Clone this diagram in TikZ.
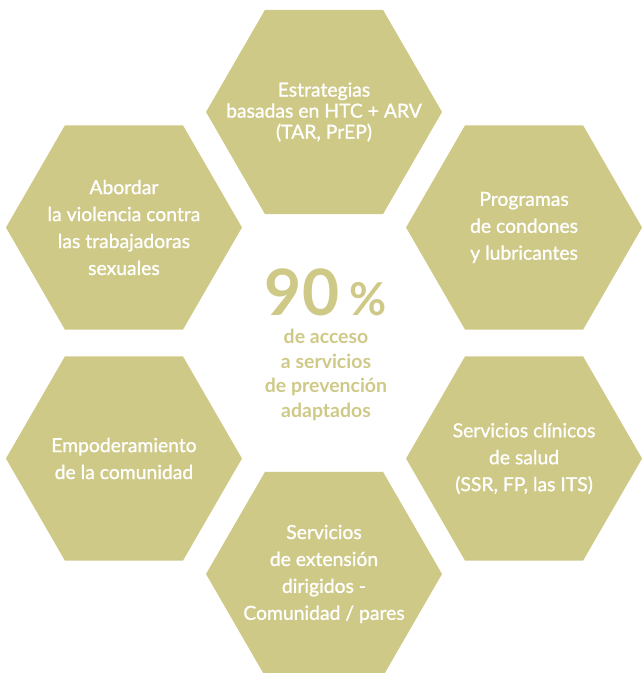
\documentclass[tikz,border=0pt]{standalone}
\usepackage{fontspec}
\setmainfont{Lato}
\newfontfamily\hexfont{Lato}[RawFeature={embolden=1.1}]
\usepackage{tikz}
\usetikzlibrary{calc}
\definecolor{hexolive}{RGB}{207,201,135}
\tikzset{%
    hexcell/.style={fill=hexolive, draw=none},
    hexlabel/.style={text=white, align=center, inner sep=0pt,
        font=\hexfont\fontsize{14.5}{20.2}\selectfont},
    hublabel/.style={text=hexolive, align=center, inner sep=0pt,
        font=\bfseries\fontsize{14.6}{18.4}\selectfont}
}

\begin{document}
\begin{tikzpicture}[x=0.75pt, y=-0.75pt]
\useasboundingbox (0,0) rectangle (641,673);
\coordinate (hub) at (324,343);
% ring of six cells round the hub
\foreach \cell/\ang in {strat/270, cond/330, clin/30, ext/90, emp/150, viol/210}{
    \path (hub) ++(\ang:231) coordinate (\cell);
    \fill[hexcell] (\cell) ++(0:118) -- ++(120:118) -- ++(180:118)
        -- ++(240:118) -- ++(300:118) -- ++(0:118) -- cycle;
}
\node[hexlabel, font=\hexfont\fontsize{14.5}{15.8}\selectfont] (strat-t) at (strat)
    {Estrategias\\basadas en HTC + ARV\\(TAR, PrEP)};
\node[hexlabel] (cond-t) at (cond) {Programas\\de condones\\y lubricantes};
\node[hexlabel] (clin-t) at (clin) {Servicios clínicos\\de salud\\(SSR, FP, las ITS)};
\node[hexlabel] (ext-t) at (ext)
    {Servicios\\de extensión\\dirigidos -\\Comunidad / pares};
\node[hexlabel] (emp-t) at (emp) {Empoderamiento\\de la comunidad};
\node[hexlabel] (viol-t) at (viol)
    {Abordar\\la violencia contra\\las trabajadoras\\sexuales};
% centre figure
\node[hublabel, font=\bfseries\fontsize{48}{48}\selectfont] (ninety) at (326,292)
    {90\,{\fontsize{34}{34}\selectfont\%}};
\node[hublabel] (hub-t) at (326,375)
    {de acceso\\a servicios\\de prevención\\adaptados};
\end{tikzpicture}
\end{document}
